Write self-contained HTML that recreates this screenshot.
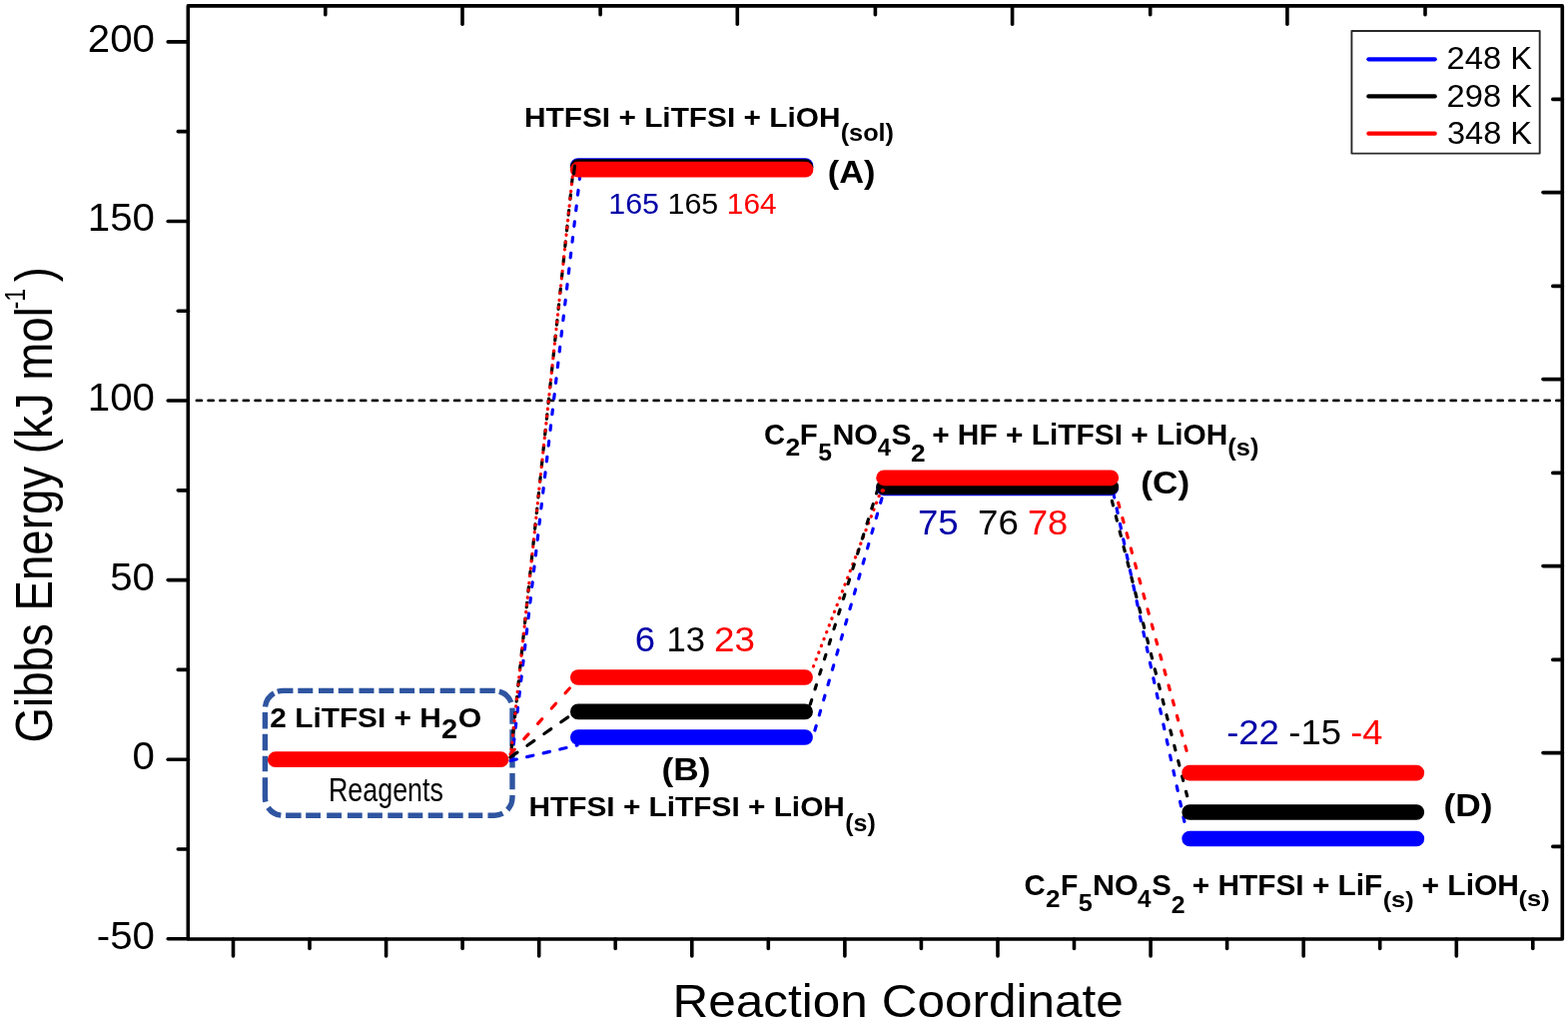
<!DOCTYPE html>
<html><head><meta charset="utf-8"><title>Gibbs Energy diagram</title>
<style>
html,body{margin:0;padding:0;background:#fff;}
svg{display:block;}
text{font-family:"Liberation Sans",Arial,Helvetica,sans-serif;}
</style></head><body>
<svg width="1570" height="1027" viewBox="0 0 1570 1027">
<rect x="0" y="0" width="1570" height="1027" fill="#fff"/>
<line x1="196.90" y1="400.90" x2="1563.00" y2="400.90" stroke="#111" stroke-width="2.8" stroke-linecap="round" stroke-dasharray="5.0 6.737"/>
<path d="M265.4,709.4 A18.0,18.0 0 0 1 283.4,691.4 H495.0 A18.0,18.0 0 0 1 513.0,709.4 V798.3 A18.0,18.0 0 0 1 495.0,816.3 H283.4 A18.0,18.0 0 0 1 265.4,798.3 Z" fill="none" stroke="#2f55a0" stroke-width="5.4" stroke-dasharray="16.76 3.70 15.80 4.81 15.00 5.70 15.00 4.80 15.00 5.70 15.00 4.90 15.00 5.70 15.00 4.90 15.00 5.70 15.00 4.80 15.00 4.93 15.40 4.20 16.70 5.50 16.30 5.50 16.40 5.40 16.40 5.40 16.40 5.80 15.60 5.90 15.30 5.20 14.20 5.40 14.80 5.40 14.80 5.40 14.80 5.40 14.80 5.40 14.80 5.40 14.80 5.90 14.80 6.20 14.80 4.60 15.50 4.80 15.30 6.20 24.50 5.90 15.70 5.40 16.40 5.40 16.40 6.30" stroke-dashoffset="-1.9"/>
<line x1="512.50" y1="760.00" x2="580.50" y2="178.00" stroke="#0000ff" stroke-width="3.2" stroke-linecap="round" stroke-dasharray="4.6 11.2"/>
<line x1="511.20" y1="758.00" x2="574.00" y2="170.00" stroke="#000000" stroke-width="3.2" stroke-linecap="round" stroke-dasharray="4.6 11.2" stroke-dashoffset="7"/>
<line x1="511.20" y1="758.00" x2="574.00" y2="170.00" stroke="#ff0000" stroke-width="3.2" stroke-linecap="round" stroke-dasharray="0.4 6.9"/>
<line x1="511.00" y1="755.00" x2="573.00" y2="686.00" stroke="#ff0000" stroke-width="3.2" stroke-linecap="round" stroke-dasharray="6.4 14.2"/>
<line x1="511.00" y1="758.00" x2="570.00" y2="717.00" stroke="#000000" stroke-width="3.2" stroke-linecap="round" stroke-dasharray="8.5 12.1"/>
<line x1="511.00" y1="761.50" x2="578.00" y2="746.00" stroke="#0000ff" stroke-width="3.2" stroke-linecap="round" stroke-dasharray="6.5 10.5"/>
<line x1="814.50" y1="667.00" x2="882.30" y2="491.00" stroke="#ff0000" stroke-width="3.2" stroke-linecap="round" stroke-dasharray="0.4 6.9"/>
<line x1="811.30" y1="705.00" x2="878.50" y2="491.00" stroke="#000000" stroke-width="3.2" stroke-linecap="round" stroke-dasharray="4.6 11.2"/>
<line x1="815.90" y1="731.00" x2="883.50" y2="497.00" stroke="#0000ff" stroke-width="3.2" stroke-linecap="round" stroke-dasharray="4.6 11.2"/>
<line x1="1115.50" y1="488.00" x2="1191.00" y2="762.00" stroke="#ff0000" stroke-width="3.2" stroke-linecap="round" stroke-dasharray="4.6 11.2"/>
<line x1="1110.00" y1="488.00" x2="1190.50" y2="804.00" stroke="#000000" stroke-width="3.2" stroke-linecap="round" stroke-dasharray="4.6 11.2" stroke-dashoffset="2"/>
<line x1="1114.00" y1="490.00" x2="1188.00" y2="832.00" stroke="#0000ff" stroke-width="3.2" stroke-linecap="round" stroke-dasharray="4.6 11.2" stroke-dashoffset="-3.6"/>
<line x1="275.80" y1="760.20" x2="501.50" y2="760.20" stroke="#ff0000" stroke-width="15.7" stroke-linecap="round"/>
<line x1="578.70" y1="166.10" x2="806.50" y2="166.10" stroke="#0000ff" stroke-width="15.7" stroke-linecap="round"/>
<line x1="578.70" y1="167.20" x2="806.50" y2="167.20" stroke="#000000" stroke-width="15.7" stroke-linecap="round"/>
<line x1="578.70" y1="169.70" x2="806.50" y2="169.70" stroke="#ff0000" stroke-width="15.7" stroke-linecap="round"/>
<line x1="578.80" y1="738.00" x2="806.10" y2="738.00" stroke="#0000ff" stroke-width="15.7" stroke-linecap="round"/>
<line x1="578.80" y1="712.40" x2="806.10" y2="712.40" stroke="#000000" stroke-width="15.7" stroke-linecap="round"/>
<line x1="578.80" y1="678.00" x2="806.10" y2="678.00" stroke="#ff0000" stroke-width="15.7" stroke-linecap="round"/>
<line x1="885.10" y1="488.30" x2="1112.30" y2="488.30" stroke="#0000ff" stroke-width="15.7" stroke-linecap="round"/>
<line x1="885.10" y1="487.50" x2="1112.30" y2="487.50" stroke="#000000" stroke-width="15.7" stroke-linecap="round"/>
<line x1="885.10" y1="478.30" x2="1112.30" y2="478.30" stroke="#ff0000" stroke-width="15.7" stroke-linecap="round"/>
<line x1="1191.20" y1="839.50" x2="1418.30" y2="839.50" stroke="#0000ff" stroke-width="15.7" stroke-linecap="round"/>
<line x1="1191.20" y1="813.00" x2="1418.30" y2="813.00" stroke="#000000" stroke-width="15.7" stroke-linecap="round"/>
<line x1="1191.20" y1="773.60" x2="1418.30" y2="773.60" stroke="#ff0000" stroke-width="15.7" stroke-linecap="round"/>
<line x1="575.50" y1="166.00" x2="574.50" y2="174.00" stroke="#000000" stroke-width="3.2" stroke-linecap="round"/>
<line x1="883.20" y1="491.00" x2="884.40" y2="491.00" stroke="#ff0000" stroke-width="3.4" stroke-linecap="round"/>
<rect x="188.3" y="5.9" width="1376.00" height="934.10" fill="none" stroke="#000" stroke-width="3.6" stroke-linejoin="round"/>
<line x1="168.20" y1="41.88" x2="188.30" y2="41.88" stroke="#000000" stroke-width="3.6" stroke-linecap="round"/>
<line x1="168.20" y1="221.46" x2="188.30" y2="221.46" stroke="#000000" stroke-width="3.6" stroke-linecap="round"/>
<line x1="168.20" y1="401.04" x2="188.30" y2="401.04" stroke="#000000" stroke-width="3.6" stroke-linecap="round"/>
<line x1="168.20" y1="580.62" x2="188.30" y2="580.62" stroke="#000000" stroke-width="3.6" stroke-linecap="round"/>
<line x1="168.20" y1="760.20" x2="188.30" y2="760.20" stroke="#000000" stroke-width="3.6" stroke-linecap="round"/>
<line x1="168.20" y1="939.78" x2="188.30" y2="939.78" stroke="#000000" stroke-width="3.6" stroke-linecap="round"/>
<line x1="178.30" y1="131.67" x2="188.30" y2="131.67" stroke="#000000" stroke-width="3.6" stroke-linecap="round"/>
<line x1="178.30" y1="311.25" x2="188.30" y2="311.25" stroke="#000000" stroke-width="3.6" stroke-linecap="round"/>
<line x1="178.30" y1="490.83" x2="188.30" y2="490.83" stroke="#000000" stroke-width="3.6" stroke-linecap="round"/>
<line x1="178.30" y1="670.41" x2="188.30" y2="670.41" stroke="#000000" stroke-width="3.6" stroke-linecap="round"/>
<line x1="178.30" y1="849.99" x2="188.30" y2="849.99" stroke="#000000" stroke-width="3.6" stroke-linecap="round"/>
<line x1="233.50" y1="940.00" x2="233.50" y2="957.00" stroke="#000000" stroke-width="3.6" stroke-linecap="round"/>
<line x1="310.00" y1="940.00" x2="310.00" y2="949.40" stroke="#000000" stroke-width="3.6" stroke-linecap="round"/>
<line x1="386.60" y1="940.00" x2="386.60" y2="957.00" stroke="#000000" stroke-width="3.6" stroke-linecap="round"/>
<line x1="463.10" y1="940.00" x2="463.10" y2="949.40" stroke="#000000" stroke-width="3.6" stroke-linecap="round"/>
<line x1="539.70" y1="940.00" x2="539.70" y2="957.00" stroke="#000000" stroke-width="3.6" stroke-linecap="round"/>
<line x1="616.20" y1="940.00" x2="616.20" y2="949.40" stroke="#000000" stroke-width="3.6" stroke-linecap="round"/>
<line x1="692.80" y1="940.00" x2="692.80" y2="957.00" stroke="#000000" stroke-width="3.6" stroke-linecap="round"/>
<line x1="769.30" y1="940.00" x2="769.30" y2="949.40" stroke="#000000" stroke-width="3.6" stroke-linecap="round"/>
<line x1="845.90" y1="940.00" x2="845.90" y2="957.00" stroke="#000000" stroke-width="3.6" stroke-linecap="round"/>
<line x1="922.40" y1="940.00" x2="922.40" y2="949.40" stroke="#000000" stroke-width="3.6" stroke-linecap="round"/>
<line x1="999.00" y1="940.00" x2="999.00" y2="957.00" stroke="#000000" stroke-width="3.6" stroke-linecap="round"/>
<line x1="1075.50" y1="940.00" x2="1075.50" y2="949.40" stroke="#000000" stroke-width="3.6" stroke-linecap="round"/>
<line x1="1152.10" y1="940.00" x2="1152.10" y2="957.00" stroke="#000000" stroke-width="3.6" stroke-linecap="round"/>
<line x1="1228.60" y1="940.00" x2="1228.60" y2="949.40" stroke="#000000" stroke-width="3.6" stroke-linecap="round"/>
<line x1="1305.20" y1="940.00" x2="1305.20" y2="957.00" stroke="#000000" stroke-width="3.6" stroke-linecap="round"/>
<line x1="1381.70" y1="940.00" x2="1381.70" y2="949.40" stroke="#000000" stroke-width="3.6" stroke-linecap="round"/>
<line x1="1458.30" y1="940.00" x2="1458.30" y2="957.00" stroke="#000000" stroke-width="3.6" stroke-linecap="round"/>
<line x1="1534.80" y1="940.00" x2="1534.80" y2="949.40" stroke="#000000" stroke-width="3.6" stroke-linecap="round"/>
<line x1="463.00" y1="5.90" x2="463.00" y2="24.20" stroke="#000000" stroke-width="3.6" stroke-linecap="round"/>
<line x1="738.30" y1="5.90" x2="738.30" y2="24.20" stroke="#000000" stroke-width="3.6" stroke-linecap="round"/>
<line x1="1013.60" y1="5.90" x2="1013.60" y2="24.20" stroke="#000000" stroke-width="3.6" stroke-linecap="round"/>
<line x1="1288.90" y1="5.90" x2="1288.90" y2="24.20" stroke="#000000" stroke-width="3.6" stroke-linecap="round"/>
<line x1="325.80" y1="5.90" x2="325.80" y2="14.70" stroke="#000000" stroke-width="3.6" stroke-linecap="round"/>
<line x1="601.10" y1="5.90" x2="601.10" y2="14.70" stroke="#000000" stroke-width="3.6" stroke-linecap="round"/>
<line x1="876.40" y1="5.90" x2="876.40" y2="14.70" stroke="#000000" stroke-width="3.6" stroke-linecap="round"/>
<line x1="1151.70" y1="5.90" x2="1151.70" y2="14.70" stroke="#000000" stroke-width="3.6" stroke-linecap="round"/>
<line x1="1427.00" y1="5.90" x2="1427.00" y2="14.70" stroke="#000000" stroke-width="3.6" stroke-linecap="round"/>
<line x1="1545.00" y1="192.60" x2="1564.30" y2="192.60" stroke="#000000" stroke-width="3.6" stroke-linecap="round"/>
<line x1="1545.00" y1="379.60" x2="1564.30" y2="379.60" stroke="#000000" stroke-width="3.6" stroke-linecap="round"/>
<line x1="1545.00" y1="566.60" x2="1564.30" y2="566.60" stroke="#000000" stroke-width="3.6" stroke-linecap="round"/>
<line x1="1545.00" y1="753.60" x2="1564.30" y2="753.60" stroke="#000000" stroke-width="3.6" stroke-linecap="round"/>
<line x1="1554.80" y1="99.40" x2="1564.30" y2="99.40" stroke="#000000" stroke-width="3.6" stroke-linecap="round"/>
<line x1="1554.80" y1="286.40" x2="1564.30" y2="286.40" stroke="#000000" stroke-width="3.6" stroke-linecap="round"/>
<line x1="1554.80" y1="473.40" x2="1564.30" y2="473.40" stroke="#000000" stroke-width="3.6" stroke-linecap="round"/>
<line x1="1554.80" y1="660.40" x2="1564.30" y2="660.40" stroke="#000000" stroke-width="3.6" stroke-linecap="round"/>
<line x1="1554.80" y1="847.40" x2="1564.30" y2="847.40" stroke="#000000" stroke-width="3.6" stroke-linecap="round"/>
<rect x="1353.4" y="31.0" width="188.3" height="122.6" fill="#fff" stroke="#2a2a2a" stroke-width="1.9" stroke-linejoin="round"/>
<line x1="1370.40" y1="59.30" x2="1436.70" y2="59.30" stroke="#0000ff" stroke-width="4.3" stroke-linecap="round"/>
<text transform="translate(1448.56,69.30) scale(1.0656,1)" style="font-size:30.7px;" fill="#000">248 K</text>
<line x1="1370.40" y1="96.40" x2="1436.70" y2="96.40" stroke="#000000" stroke-width="4.3" stroke-linecap="round"/>
<text transform="translate(1448.56,106.50) scale(1.0656,1)" style="font-size:30.7px;" fill="#000">298 K</text>
<line x1="1370.40" y1="133.70" x2="1436.70" y2="133.70" stroke="#ff0000" stroke-width="4.3" stroke-linecap="round"/>
<text transform="translate(1448.98,143.70) scale(1.0604,1)" style="font-size:30.7px;" fill="#000">348 K</text>
<text transform="translate(87.82,51.78) scale(1.0450,1)" style="font-size:38.5px;" fill="#000">200</text>
<text transform="translate(87.82,231.36) scale(1.0450,1)" style="font-size:38.5px;" fill="#000">150</text>
<text transform="translate(87.82,410.94) scale(1.0450,1)" style="font-size:38.5px;" fill="#000">100</text>
<text transform="translate(110.25,590.52) scale(1.0450,1)" style="font-size:38.5px;" fill="#000">50</text>
<text transform="translate(132.58,770.10) scale(1.0450,1)" style="font-size:38.5px;" fill="#000">0</text>
<text transform="translate(96.77,949.68) scale(1.0450,1)" style="font-size:38.5px;" fill="#000">-50</text>
<text transform="translate(673.51,1017.50) scale(1.0514,1)" style="font-size:47.1px;" fill="#000">Reaction Coordinate</text>
<g transform="translate(52.2,741.2) rotate(-90)" fill="#000"><text transform="translate(-2.28,0.00) scale(0.9320,1.0500)" style="font-size:49px">Gibbs Energy (kJ mol</text><text transform="translate(431.65,-27.40) scale(0.9000,1.1540)" style="font-size:26px">-1</text><text transform="translate(458.86,0.00) scale(0.9320,1.0500)" style="font-size:49px">)</text></g>
<text transform="translate(609.22,213.70) scale(1.0520,1)" style="font-size:28.9px;" fill="#0000a8">165</text>
<text transform="translate(668.52,213.70) scale(1.0520,1)" style="font-size:28.9px;" fill="#000000">165</text>
<text transform="translate(727.87,213.70) scale(1.0303,1)" style="font-size:28.9px;" fill="#ff0000">164</text>
<text transform="translate(635.67,652.20) scale(1.0591,1)" style="font-size:34.5px;" fill="#0000a8">6</text>
<text transform="translate(667.40,652.20) scale(1.0046,1)" style="font-size:34.5px;" fill="#000000">13</text>
<text transform="translate(714.96,652.20) scale(1.0683,1)" style="font-size:34.5px;" fill="#ff0000">23</text>
<text transform="translate(918.97,534.60) scale(1.0597,1)" style="font-size:34.6px;" fill="#0000a8">75</text>
<text transform="translate(979.06,534.60) scale(1.0623,1)" style="font-size:34.6px;" fill="#000000">76</text>
<text transform="translate(1028.89,534.60) scale(1.0481,1)" style="font-size:34.6px;" fill="#ff0000">78</text>
<text transform="translate(1228.16,745.10) scale(1.0647,1)" style="font-size:34.3px;" fill="#0000a8">-22</text>
<text transform="translate(1290.26,745.10) scale(1.0633,1)" style="font-size:34.3px;" fill="#000000">-15</text>
<text transform="translate(1352.17,745.10) scale(1.0553,1)" style="font-size:34.3px;" fill="#ff0000">-4</text>
<text transform="translate(828.78,183.10) scale(1.0958,1)" style="font-size:31.4px;font-weight:bold;" fill="#000">(A)</text>
<text transform="translate(662.54,780.50) scale(1.1019,1)" style="font-size:32.0px;font-weight:bold;" fill="#000">(B)</text>
<text transform="translate(1142.34,494.30) scale(1.1064,1)" style="font-size:31.8px;font-weight:bold;" fill="#000">(C)</text>
<text transform="translate(1445.43,816.60) scale(1.1255,1)" style="font-size:31.4px;font-weight:bold;" fill="#000">(D)</text>
<text transform="translate(524.99,127.30) scale(1.0618,1)" style="font-size:28.1px;font-weight:bold;" fill="#000">HTFSI + LiTFSI + LiOH</text>
<text transform="translate(841.63,141.00) scale(1.0776,1)" style="font-size:23.5px;font-weight:bold;" fill="#000">(sol)</text>
<text transform="translate(529.49,817.20) scale(1.0502,1)" style="font-size:28.4px;font-weight:bold;" fill="#000">HTFSI + LiTFSI + LiOH</text>
<text transform="translate(846.15,831.50) scale(1.0653,1)" style="font-size:23.5px;font-weight:bold;" fill="#000">(s)</text>
<text transform="translate(270.36,727.70) scale(1.0607,1)" style="font-size:28.1px;font-weight:bold;" fill="#000">2 LiTFSI + H</text>
<text transform="translate(441.98,739.20) scale(1.0253,1)" style="font-size:28.3px;font-weight:bold;" fill="#000">2</text>
<text transform="translate(458.69,727.70) scale(1.0677,1)" style="font-size:28.3px;font-weight:bold;" fill="#000">O</text>
<text transform="translate(328.98,801.80) scale(0.8315,1)" style="font-size:32.3px;" fill="#000">Reagents</text>
<text transform="translate(764.93,444.70) scale(1.0196,1)" style="font-size:28.6px;font-weight:bold;" fill="#000">C</text>
<text transform="translate(786.57,456.00) scale(1.1054,1)" style="font-size:24.0px;font-weight:bold;" fill="#000">2</text>
<text transform="translate(800.80,444.70) scale(1.0334,1)" style="font-size:28.6px;font-weight:bold;" fill="#000">F</text>
<text transform="translate(819.36,460.60) scale(1.0302,1)" style="font-size:24.0px;font-weight:bold;" fill="#000">5</text>
<text transform="translate(833.45,444.70) scale(1.0615,1)" style="font-size:28.6px;font-weight:bold;" fill="#000">NO</text>
<text transform="translate(878.64,455.80) scale(0.9891,1)" style="font-size:24.0px;font-weight:bold;" fill="#000">4</text>
<text transform="translate(892.50,444.70) scale(1.0475,1)" style="font-size:28.6px;font-weight:bold;" fill="#000">S</text>
<text transform="translate(912.08,462.10) scale(1.0967,1)" style="font-size:24.0px;font-weight:bold;" fill="#000">2</text>
<text transform="translate(933.13,444.70) scale(1.0446,1)" style="font-size:28.6px;font-weight:bold;" fill="#000">+ HF + LiTFSI + LiOH</text>
<text transform="translate(1229.33,456.00) scale(1.0982,1)" style="font-size:23.2px;font-weight:bold;" fill="#000">(s)</text>
<text transform="translate(1025.53,896.10) scale(1.0249,1)" style="font-size:28.6px;font-weight:bold;" fill="#000">C</text>
<text transform="translate(1047.09,907.60) scale(1.0881,1)" style="font-size:24.0px;font-weight:bold;" fill="#000">2</text>
<text transform="translate(1061.88,896.10) scale(0.9921,1)" style="font-size:28.6px;font-weight:bold;" fill="#000">F</text>
<text transform="translate(1079.84,911.90) scale(1.0553,1)" style="font-size:24.0px;font-weight:bold;" fill="#000">5</text>
<text transform="translate(1093.94,896.10) scale(1.0666,1)" style="font-size:28.6px;font-weight:bold;" fill="#000">NO</text>
<text transform="translate(1139.04,907.60) scale(1.0125,1)" style="font-size:24.0px;font-weight:bold;" fill="#000">4</text>
<text transform="translate(1153.22,896.10) scale(1.0241,1)" style="font-size:28.6px;font-weight:bold;" fill="#000">S</text>
<text transform="translate(1172.83,913.90) scale(1.0363,1)" style="font-size:24.0px;font-weight:bold;" fill="#000">2</text>
<text transform="translate(1193.83,896.10) scale(1.0424,1)" style="font-size:28.6px;font-weight:bold;" fill="#000">+ HTFSI + LiF</text>
<text transform="translate(1384.63,907.60) scale(1.1087,1)" style="font-size:22.9px;font-weight:bold;" fill="#000">(s)</text>
<text transform="translate(1423.53,896.10) scale(1.0478,1)" style="font-size:28.6px;font-weight:bold;" fill="#000">+ LiOH</text>
<text transform="translate(1520.53,907.30) scale(1.1126,1)" style="font-size:22.9px;font-weight:bold;" fill="#000">(s)</text>
</svg>
</body></html>
